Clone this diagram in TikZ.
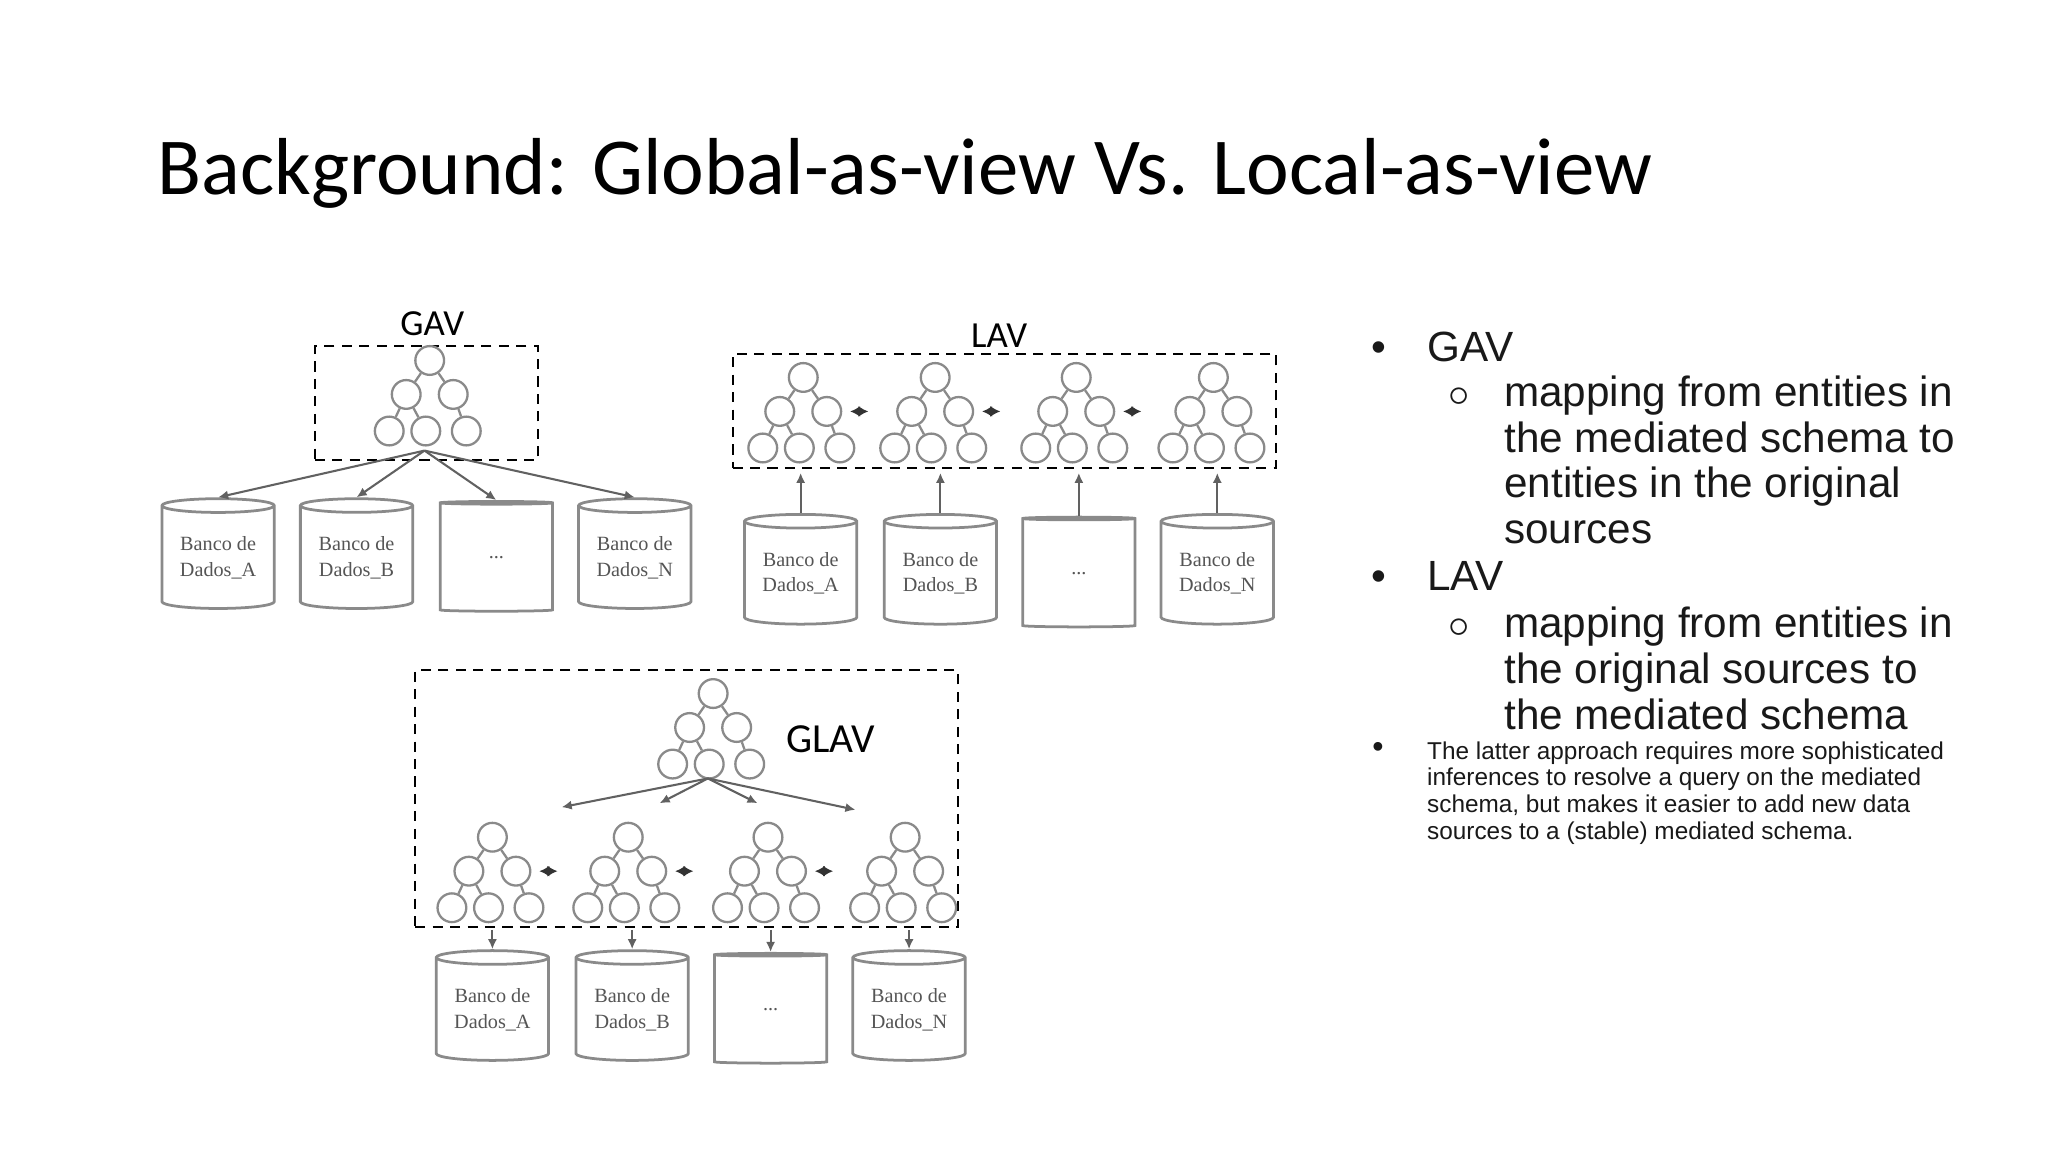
\documentclass[tikz,border=0pt]{standalone}
\usepackage{fontspec}
\setmainfont{Liberation Sans}
\newfontfamily\calfont{Carlito}
\newfontfamily\tms{Liberation Serif}
\usetikzlibrary{shapes.geometric,arrows.meta}
\definecolor{dg}{HTML}{8A8A8A}
\definecolor{tg}{HTML}{555555}
\tikzset{
 c/.style={circle,draw=dg,line width=0.5pt,minimum size=0.22cm,inner sep=0pt},
 tl/.style={draw=dg,line width=0.5pt},
 db/.style={cylinder,shape border rotate=90,draw=dg,line width=0.6pt,aspect=0.18,
   minimum width=0.86cm,minimum height=0.84cm,inner sep=0pt,align=center,
   font=\tms\fontsize{4.4pt}{5.6pt}\selectfont,text=tg},
 box/.style={draw=black,dashed,dash pattern=on 2.2pt off 1.6pt,line width=0.45pt},
 ar/.style={draw=dg!70!black,line width=0.45pt,-{Latex[length=2.2pt,width=2pt]}},
 dar/.style={draw=black!80,line width=0.6pt,{Latex[length=2.2pt,width=2.4pt]}-{Latex[length=2.2pt,width=2.4pt]}},
 lab/.style={font=\calfont\fontsize{8pt}{9pt}\selectfont},
 bt/.style={anchor=base west,inner sep=0pt,font=\fontsize{9.2pt}{10pt}\selectfont,text=black!90},
 para/.style={anchor=north west,inner sep=0pt,align=left,text=black!90}
}
\newcommand{\mytree}[3]{%
 \node[c] (#1r) at (#2,#3) {};
 \node[c] (#1a) at (#2-18,#3+26) {};
 \node[c] (#1b) at (#2+18,#3+26) {};
 \node[c] (#1x) at (#2-31,#3+54) {};
 \node[c] (#1y) at (#2-3,#3+54) {};
 \node[c] (#1z) at (#2+28,#3+54) {};
 \draw[tl] (#1r)--(#1a) (#1r)--(#1b) (#1a)--(#1x) (#1a)--(#1y) (#1b)--(#1z);
}
\begin{document}
\begin{tikzpicture}[x=0.01cm,y=-0.01cm]
\useasboundingbox[fill=white] (0,0) rectangle (1568,882);
% title
\node[anchor=base west,font=\calfont\fontsize{17.6pt}{20pt}\selectfont,inner sep=0] (title) at (120,149) {Background: Global-as-view Vs. Local-as-view};
% GAV
\node[lab] (gavl) at (331,248) {GAV};
\node[box,minimum width=1.71cm,minimum height=0.87cm] (gbox) at (326.5,308.5) {};
\mytree{g}{329}{276}
\coordinate (gbot) at (325,345);
\foreach \i/\x/\t in {1/167/{Banco de\\Dados\_A},2/273/{Banco de\\Dados\_B},3/380/{...},4/486/{Banco de\\Dados\_N}}{
 \node[db] (gd\i) at (\x,427) {\t};
 \draw[ar] (gbot) -- (gd\i.top);
}
% LAV
\node[lab] (lavl) at (765,257) {LAV};
\node[box,minimum width=4.16cm,minimum height=0.87cm] (lbox) at (769,314.5) {};
\foreach \i/\x in {1/615,2/716,3/824,4/929}{\mytree{l\i}{\x}{289}}
\draw[dar] (l1b.east)++(6,0) -- ++(14,0);
\draw[dar] (l2b.east)++(6,0) -- ++(14,0);
\draw[dar] (l3b.east)++(6,0) -- ++(14,0);
\foreach \i/\x/\t in {1/613/{Banco de\\Dados\_A},2/720/{Banco de\\Dados\_B},3/826/{...},4/932/{Banco de\\Dados\_N}}{
 \node[db] (ld\i) at (\x,439) {\t};
 \coordinate (lt\i) at (\x,362);
 \draw[ar] (ld\i.top) -- (lt\i);
}
% GLAV
\node[box,minimum width=4.15cm,minimum height=1.97cm] (gl) at (525.5,611.5) {};
\node[lab,font=\calfont\fontsize{9pt}{10pt}\selectfont] (glavl) at (636,566) {GLAV};
\mytree{t}{546}{531}
\coordinate (tbot) at (542,596);
\coordinate (e1) at (430,618);\coordinate (e2) at (505,615);
\coordinate (e3) at (580,615);\coordinate (e4) at (655,620);
\foreach \i in {1,...,4}{\draw[ar] (tbot)--(e\i);}
\foreach \i/\x in {1/377,2/481,3/588,4/693}{\mytree{m\i}{\x}{641}}
\draw[dar] (m1b.east)++(6,0) -- ++(14,0);
\draw[dar] (m2b.east)++(6,0) -- ++(14,0);
\draw[dar] (m3b.east)++(6,0) -- ++(14,0);
\foreach \i/\x/\t in {1/377/{Banco de\\Dados\_A},2/484/{Banco de\\Dados\_B},3/590/{...},4/696/{Banco de\\Dados\_N}}{
 \node[db] (md\i) at (\x,773) {\t};
 \coordinate (ms\i) at (\x,712);
 \draw[ar] (ms\i) -- (md\i.top);
}
% bullets
\node[bt] (b1) at (1049,277) {\textbullet};
\node[bt] (g1) at (1092,277) {GAV};
\node[bt] (s1) at (1108,311) {$\circ$};
\node[para,font=\fontsize{9.2pt}{9.96pt}\selectfont] (s1t) at (1151,287) {mapping from entities in\\the mediated schema to\\entities in the original\\sources};
\node[bt] (b2) at (1049,452) {\textbullet};
\node[bt] (g2) at (1092,452) {LAV};
\node[bt] (s2) at (1108,488) {$\circ$};
\node[para,font=\fontsize{9.2pt}{9.96pt}\selectfont] (s2t) at (1151,464) {mapping from entities in\\the original sources to\\the mediated schema};
\node[bt,font=\fontsize{7pt}{8pt}\selectfont] (b3) at (1050,580) {\textbullet};
\node[para,font=\fontsize{5.3pt}{5.8pt}\selectfont] (b3t) at (1092,567) {The latter approach requires more sophisticated\\inferences to resolve a query on the mediated\\schema, but makes it easier to add new data\\sources to a (stable) mediated schema.};
\end{tikzpicture}
\end{document}
